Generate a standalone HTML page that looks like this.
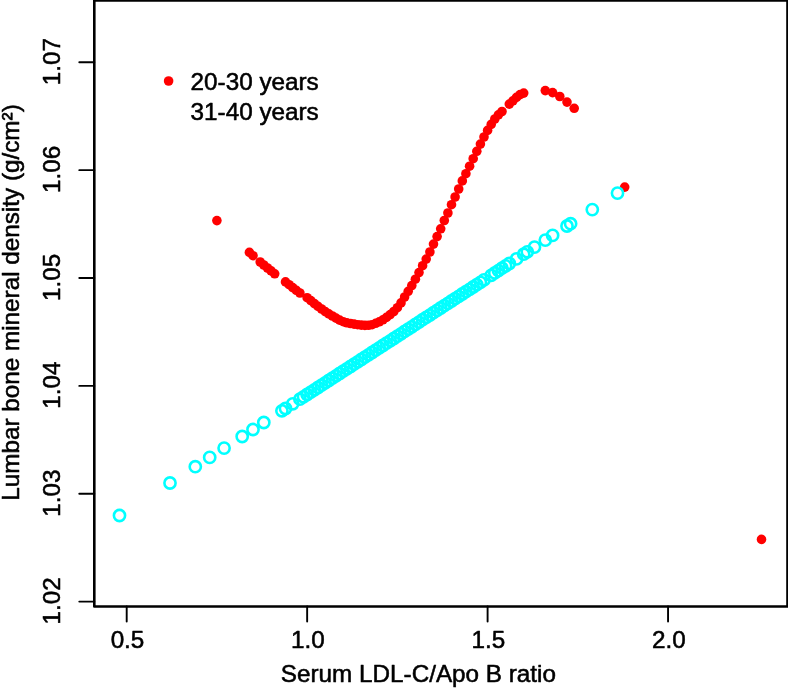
<!DOCTYPE html>
<html lang="en"><head><meta charset="utf-8"><title>Lumbar bone mineral density vs Serum LDL-C/Apo B ratio</title>
<style>html,body{margin:0;padding:0;background:#fff;overflow:hidden}svg{display:block}text{font-family:"Liberation Sans",Arial,Helvetica,sans-serif;font-size:24.27px;fill:#000;stroke:#000;stroke-width:0.55px;stroke-linejoin:round}</style></head><body>
<svg width="788" height="688" viewBox="0 0 788 688">
<rect x="0" y="0" width="788" height="688" fill="#fff"/>
<g fill="#ff0000">
<circle cx="216.9" cy="220.6" r="4.8"/>
<circle cx="249.4" cy="252.4" r="4.8"/>
<circle cx="253.0" cy="255.7" r="4.8"/>
<circle cx="260.2" cy="262.0" r="4.8"/>
<circle cx="263.8" cy="265.0" r="4.8"/>
<circle cx="267.5" cy="268.0" r="4.8"/>
<circle cx="271.1" cy="270.9" r="4.8"/>
<circle cx="274.7" cy="273.8" r="4.8"/>
<circle cx="285.5" cy="281.9" r="4.8"/>
<circle cx="289.1" cy="284.7" r="4.8"/>
<circle cx="292.7" cy="287.6" r="4.8"/>
<circle cx="296.3" cy="290.3" r="4.8"/>
<circle cx="299.9" cy="293.0" r="4.8"/>
<circle cx="307.1" cy="297.7" r="4.8"/>
<circle cx="310.8" cy="300.6" r="4.8"/>
<circle cx="314.4" cy="303.6" r="4.8"/>
<circle cx="318.0" cy="306.4" r="4.8"/>
<circle cx="321.6" cy="309.0" r="4.8"/>
<circle cx="325.2" cy="311.6" r="4.8"/>
<circle cx="328.8" cy="313.9" r="4.8"/>
<circle cx="332.4" cy="316.0" r="4.8"/>
<circle cx="336.0" cy="318.1" r="4.8"/>
<circle cx="339.6" cy="320.1" r="4.8"/>
<circle cx="343.2" cy="321.7" r="4.8"/>
<circle cx="346.8" cy="322.8" r="4.8"/>
<circle cx="350.5" cy="323.5" r="4.8"/>
<circle cx="354.1" cy="324.1" r="4.8"/>
<circle cx="357.7" cy="324.7" r="4.8"/>
<circle cx="361.3" cy="325.1" r="4.8"/>
<circle cx="364.9" cy="325.4" r="4.8"/>
<circle cx="368.5" cy="325.3" r="4.8"/>
<circle cx="372.1" cy="324.7" r="4.8"/>
<circle cx="375.7" cy="323.3" r="4.8"/>
<circle cx="379.3" cy="321.8" r="4.8"/>
<circle cx="382.9" cy="319.8" r="4.8"/>
<circle cx="386.5" cy="317.4" r="4.8"/>
<circle cx="390.2" cy="314.6" r="4.8"/>
<circle cx="393.8" cy="311.5" r="4.8"/>
<circle cx="397.4" cy="307.7" r="4.8"/>
<circle cx="401.0" cy="302.9" r="4.8"/>
<circle cx="404.6" cy="297.0" r="4.8"/>
<circle cx="408.2" cy="291.3" r="4.8"/>
<circle cx="411.8" cy="285.6" r="4.8"/>
<circle cx="415.4" cy="279.2" r="4.8"/>
<circle cx="419.0" cy="272.6" r="4.8"/>
<circle cx="422.6" cy="265.7" r="4.8"/>
<circle cx="426.2" cy="259.1" r="4.8"/>
<circle cx="429.9" cy="252.0" r="4.8"/>
<circle cx="433.5" cy="244.1" r="4.8"/>
<circle cx="437.1" cy="236.6" r="4.8"/>
<circle cx="440.7" cy="228.8" r="4.8"/>
<circle cx="444.3" cy="220.5" r="4.8"/>
<circle cx="447.9" cy="213.0" r="4.8"/>
<circle cx="451.5" cy="204.7" r="4.8"/>
<circle cx="455.1" cy="197.0" r="4.8"/>
<circle cx="458.7" cy="189.0" r="4.8"/>
<circle cx="462.3" cy="180.9" r="4.8"/>
<circle cx="465.9" cy="173.7" r="4.8"/>
<circle cx="469.6" cy="166.2" r="4.8"/>
<circle cx="473.2" cy="158.7" r="4.8"/>
<circle cx="476.8" cy="151.3" r="4.8"/>
<circle cx="480.4" cy="144.1" r="4.8"/>
<circle cx="484.0" cy="137.0" r="4.8"/>
<circle cx="487.6" cy="130.4" r="4.8"/>
<circle cx="491.2" cy="124.4" r="4.8"/>
<circle cx="494.8" cy="119.0" r="4.8"/>
<circle cx="498.4" cy="114.8" r="4.8"/>
<circle cx="502.0" cy="111.5" r="4.8"/>
<circle cx="509.3" cy="104.1" r="4.8"/>
<circle cx="512.9" cy="100.8" r="4.8"/>
<circle cx="516.5" cy="97.4" r="4.8"/>
<circle cx="520.1" cy="94.6" r="4.8"/>
<circle cx="523.7" cy="93.1" r="4.8"/>
<circle cx="545.3" cy="90.6" r="4.8"/>
<circle cx="552.6" cy="92.6" r="4.8"/>
<circle cx="559.8" cy="96.5" r="4.8"/>
<circle cx="567.0" cy="102.1" r="4.8"/>
<circle cx="574.2" cy="108.3" r="4.8"/>
<circle cx="624.7" cy="187.1" r="4.8"/>
<circle cx="761.5" cy="539.4" r="4.8"/>
</g>
<g fill="none" stroke="#00ffff" stroke-width="2.6">
<circle cx="119.5" cy="515.5" r="5.6"/>
<circle cx="170.0" cy="483.0" r="5.6"/>
<circle cx="195.3" cy="466.7" r="5.6"/>
<circle cx="209.7" cy="457.4" r="5.6"/>
<circle cx="224.1" cy="448.1" r="5.6"/>
<circle cx="242.2" cy="436.5" r="5.6"/>
<circle cx="253.0" cy="429.5" r="5.6"/>
<circle cx="263.8" cy="422.5" r="5.6"/>
<circle cx="281.9" cy="410.8" r="5.6"/>
<circle cx="285.5" cy="408.5" r="5.6"/>
<circle cx="292.7" cy="403.8" r="5.6"/>
<circle cx="299.9" cy="399.2" r="5.6"/>
<circle cx="303.5" cy="396.8" r="5.6"/>
<circle cx="307.1" cy="394.5" r="5.6"/>
<circle cx="310.8" cy="392.2" r="5.6"/>
<circle cx="314.4" cy="389.8" r="5.6"/>
<circle cx="318.0" cy="387.5" r="5.6"/>
<circle cx="321.6" cy="385.2" r="5.6"/>
<circle cx="325.2" cy="382.8" r="5.6"/>
<circle cx="328.8" cy="380.5" r="5.6"/>
<circle cx="332.4" cy="378.2" r="5.6"/>
<circle cx="336.0" cy="375.8" r="5.6"/>
<circle cx="339.6" cy="373.5" r="5.6"/>
<circle cx="343.2" cy="371.2" r="5.6"/>
<circle cx="346.8" cy="368.8" r="5.6"/>
<circle cx="350.5" cy="366.5" r="5.6"/>
<circle cx="354.1" cy="364.2" r="5.6"/>
<circle cx="357.7" cy="361.8" r="5.6"/>
<circle cx="361.3" cy="359.5" r="5.6"/>
<circle cx="364.9" cy="357.2" r="5.6"/>
<circle cx="368.5" cy="354.8" r="5.6"/>
<circle cx="372.1" cy="352.5" r="5.6"/>
<circle cx="375.7" cy="350.1" r="5.6"/>
<circle cx="379.3" cy="347.8" r="5.6"/>
<circle cx="382.9" cy="345.5" r="5.6"/>
<circle cx="386.5" cy="343.1" r="5.6"/>
<circle cx="390.2" cy="340.8" r="5.6"/>
<circle cx="393.8" cy="338.5" r="5.6"/>
<circle cx="397.4" cy="336.1" r="5.6"/>
<circle cx="401.0" cy="333.8" r="5.6"/>
<circle cx="404.6" cy="331.4" r="5.6"/>
<circle cx="408.2" cy="329.1" r="5.6"/>
<circle cx="411.8" cy="326.8" r="5.6"/>
<circle cx="415.4" cy="324.4" r="5.6"/>
<circle cx="419.0" cy="322.1" r="5.6"/>
<circle cx="422.6" cy="319.7" r="5.6"/>
<circle cx="426.2" cy="317.4" r="5.6"/>
<circle cx="429.9" cy="315.1" r="5.6"/>
<circle cx="433.5" cy="312.7" r="5.6"/>
<circle cx="437.1" cy="310.4" r="5.6"/>
<circle cx="440.7" cy="308.0" r="5.6"/>
<circle cx="444.3" cy="305.7" r="5.6"/>
<circle cx="447.9" cy="303.4" r="5.6"/>
<circle cx="451.5" cy="301.0" r="5.6"/>
<circle cx="455.1" cy="298.7" r="5.6"/>
<circle cx="458.7" cy="296.3" r="5.6"/>
<circle cx="462.3" cy="294.0" r="5.6"/>
<circle cx="465.9" cy="291.7" r="5.6"/>
<circle cx="469.6" cy="289.3" r="5.6"/>
<circle cx="473.2" cy="287.0" r="5.6"/>
<circle cx="476.8" cy="284.6" r="5.6"/>
<circle cx="480.4" cy="282.3" r="5.6"/>
<circle cx="484.0" cy="279.9" r="5.6"/>
<circle cx="491.2" cy="275.3" r="5.6"/>
<circle cx="494.8" cy="272.9" r="5.6"/>
<circle cx="498.4" cy="270.6" r="5.6"/>
<circle cx="502.0" cy="268.2" r="5.6"/>
<circle cx="505.6" cy="265.9" r="5.6"/>
<circle cx="509.3" cy="263.5" r="5.6"/>
<circle cx="516.5" cy="258.9" r="5.6"/>
<circle cx="523.7" cy="254.2" r="5.6"/>
<circle cx="527.3" cy="251.8" r="5.6"/>
<circle cx="534.5" cy="247.1" r="5.6"/>
<circle cx="545.3" cy="240.1" r="5.6"/>
<circle cx="552.6" cy="235.4" r="5.6"/>
<circle cx="567.0" cy="226.0" r="5.6"/>
<circle cx="570.6" cy="223.7" r="5.6"/>
<circle cx="592.3" cy="209.6" r="5.6"/>
<circle cx="617.5" cy="193.1" r="5.6"/>
</g>
<g stroke="#000" fill="none" stroke-linecap="round" stroke-linejoin="round">
<rect x="94.3" y="0.5" width="693.2" height="606.0" stroke-width="2.6"/>
<line x1="79.3" y1="601.60" x2="94.3" y2="601.60" stroke-width="1.9"/>
<line x1="79.3" y1="493.74" x2="94.3" y2="493.74" stroke-width="1.9"/>
<line x1="79.3" y1="385.88" x2="94.3" y2="385.88" stroke-width="1.9"/>
<line x1="79.3" y1="278.02" x2="94.3" y2="278.02" stroke-width="1.9"/>
<line x1="79.3" y1="170.16" x2="94.3" y2="170.16" stroke-width="1.9"/>
<line x1="79.3" y1="62.30" x2="94.3" y2="62.30" stroke-width="1.9"/>
<line x1="126.70" y1="606.5" x2="126.70" y2="621.5" stroke-width="1.9"/>
<line x1="307.15" y1="606.5" x2="307.15" y2="621.5" stroke-width="1.9"/>
<line x1="487.60" y1="606.5" x2="487.60" y2="621.5" stroke-width="1.9"/>
<line x1="668.05" y1="606.5" x2="668.05" y2="621.5" stroke-width="1.9"/>
</g>
<text transform="translate(60.2,600.90) rotate(-90)" text-anchor="middle">1.02</text>
<text transform="translate(60.2,493.04) rotate(-90)" text-anchor="middle">1.03</text>
<text transform="translate(60.2,385.18) rotate(-90)" text-anchor="middle">1.04</text>
<text transform="translate(60.2,277.32) rotate(-90)" text-anchor="middle">1.05</text>
<text transform="translate(60.2,169.46) rotate(-90)" text-anchor="middle">1.06</text>
<text transform="translate(60.2,61.60) rotate(-90)" text-anchor="middle">1.07</text>
<text x="127.50" y="648.3" text-anchor="middle">0.5</text>
<text x="307.95" y="648.3" text-anchor="middle">1.0</text>
<text x="488.40" y="648.3" text-anchor="middle">1.5</text>
<text x="668.85" y="648.3" text-anchor="middle">2.0</text>
<text x="418.4" y="682.3" text-anchor="middle">Serum LDL-C/Apo B ratio</text>
<text transform="translate(18.5,302.5) rotate(-90)" text-anchor="middle">Lumbar bone mineral density (g/cm²)</text>
<circle cx="168.6" cy="81" r="4.8" fill="#ff0000"/>
<text x="190.6" y="89.5">20-30 years</text>
<text x="190.6" y="119.6">31-40 years</text>
</svg></body></html>
